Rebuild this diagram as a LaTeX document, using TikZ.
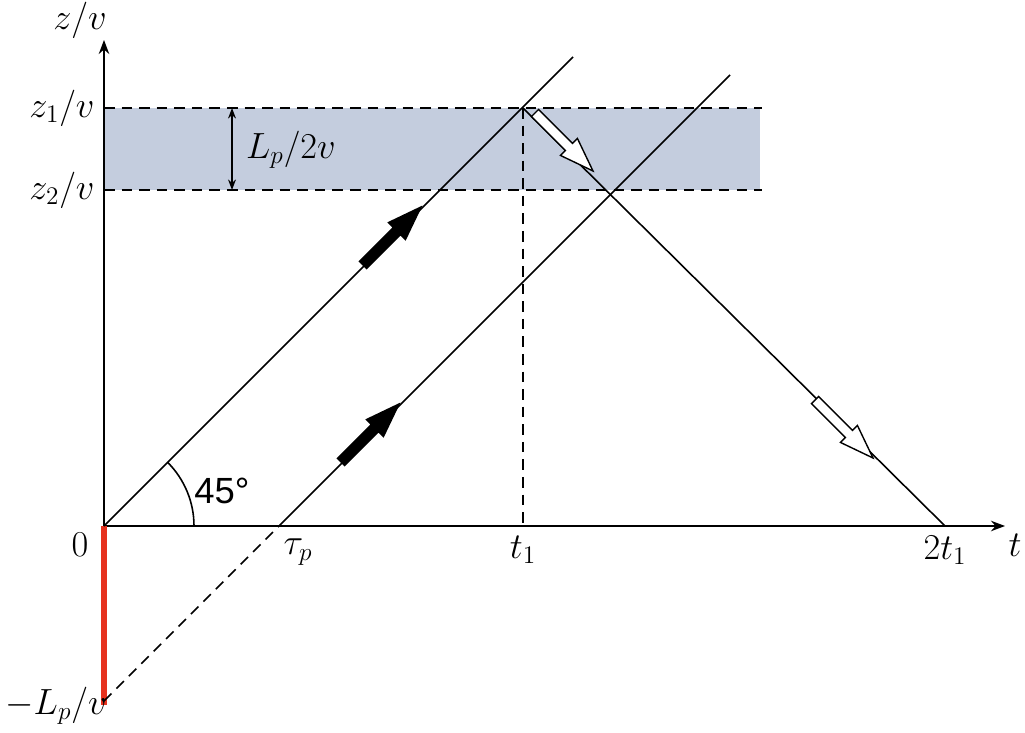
\documentclass[tikz,border=0pt]{standalone}
\usepackage{fontspec}
\newfontfamily\sansf{Liberation Sans}
\usetikzlibrary{arrows.meta}
\definecolor{band}{RGB}{196,205,222}
\definecolor{redl}{RGB}{230,50,30}
\tikzset{ln/.style={line width=0.9pt},
 dsh/.style={dash pattern=on 6pt off 4pt},
 fat/.style={draw=black,line width=0.8pt,line join=miter},
 lab/.style={font=\huge}}
\newcommand{\fatarr}[4]{\begin{scope}[shift={(#1,#2)},rotate=#3]
 \draw[fat,fill=#4] (0,-5)--(48,-5)--(48,-12)--(82,0)--(48,12)--(48,5)--(0,5)--cycle;\end{scope}}
\begin{document}
\begin{tikzpicture}[x=0.02cm,y=-0.02cm]
\useasboundingbox (0,0) rectangle (1025,733);
\fill[band] (104,108) rectangle (760,190);
\draw[ln,dsh] (104,108)--(762,108);
\draw[ln,dsh] (104,190)--(762,190);
\draw[ln,dsh] (523,108)--(523,526);
\coordinate (O) at (104,526);
\draw[ln,-{Stealth[length=8pt]}] (104,526)--(104,40);
\draw[ln,-{Stealth[length=8pt]}] (104,526)--(1005,526);
\draw[redl,line width=3pt] (104,526)--(104,705);
\draw[ln] (O)--(573,57);
\draw[ln,dsh] (104,701)--(279,526);
\draw[ln] (279,526)--(730,75);
\draw[ln] (523,108)--(945,526);
\draw[ln,{Stealth[length=6pt]}-{Stealth[length=6pt]}] (232,108)--(232,190);
\node[lab,anchor=west] (lp) at (240,150) {$L_p/2v$};
\draw[ln] (194,526) arc (0:-45:90);
\node[font=\sansf\huge] (ang) at (222,491) {45°};
\fatarr{363}{265}{45}{black}
\fatarr{341}{462}{45}{black}
\fatarr{535}{113}{-45}{white}
\fatarr{815}{400}{-45}{white}
\node[lab] (zv) at (80,20) {$z/v$};
\node[lab] (z1) at (62,108) {$z_1/v$};
\node[lab] (z2) at (62,190) {$z_2/v$};
\node[lab] (o) at (80,545) {$0$};
\node[lab] (tp) at (298,552) {$\tau_p$};
\node[lab] (t1) at (523,550) {$t_1$};
\node[lab] (tt1) at (945,550) {$2t_1$};
\node[lab] (t) at (1015,545) {$t$};
\node[lab] (lpv) at (56,706) {$-L_p/v$};
\end{tikzpicture}
\end{document}
